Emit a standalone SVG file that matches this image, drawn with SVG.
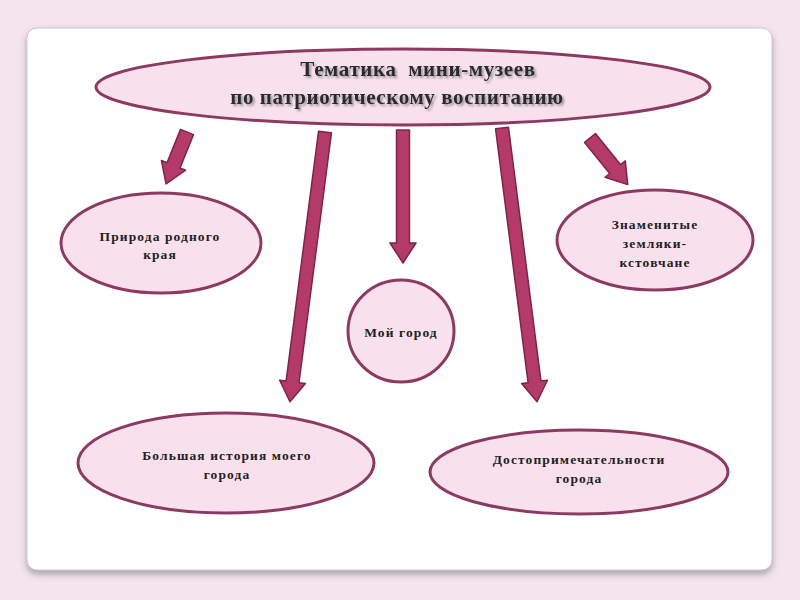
<svg xmlns="http://www.w3.org/2000/svg" width="800" height="600" viewBox="0 0 800 600">
<defs>
<style>
.node ellipse{fill:#f8e1ec;stroke:#8c3a62;stroke-width:3}
.lbl{font-family:"Liberation Serif","DejaVu Serif",serif;font-weight:bold;font-size:13.5px;letter-spacing:1.1px;fill:#222;text-anchor:middle}
.ttl{font-family:"Liberation Serif","DejaVu Serif",serif;font-weight:bold;font-size:21px;letter-spacing:0.6px;fill:#2a2a2a;text-anchor:middle;white-space:pre}
.arr{fill:#b43a69;stroke:#7e2448;stroke-width:1.5;stroke-linejoin:round}
</style>
<filter id="ts" x="-10%" y="-30%" width="120%" height="160%">
<feGaussianBlur in="SourceAlpha" stdDeviation="1.2"/>
<feOffset dx="1.5" dy="2" result="b"/>
<feFlood flood-color="#777" flood-opacity="0.7"/>
<feComposite in2="b" operator="in"/>
<feMerge><feMergeNode/><feMergeNode in="SourceGraphic"/></feMerge>
</filter>
<filter id="cs" x="-5%" y="-5%" width="110%" height="115%">
<feGaussianBlur in="SourceAlpha" stdDeviation="3"/>
<feOffset dx="0" dy="4" result="b"/>
<feFlood flood-color="#666" flood-opacity="0.5"/>
<feComposite in2="b" operator="in"/>
<feMerge><feMergeNode/><feMergeNode in="SourceGraphic"/></feMerge>
</filter>
</defs>
<rect width="800" height="600" fill="#f4e4ec"/>
<rect x="27" y="28" width="745" height="542" rx="10" fill="#ffffff" stroke="#cfc6cb" stroke-width="1" filter="url(#cs)"/>

<g id="connectors">
<path class="arr" transform="translate(187,132) rotate(112)" d="M0,-7 L36,-7 L36,-13 L56,0 L36,13 L36,7 L0,7 Z"/>
<path class="arr" transform="translate(325,132) rotate(97.4)" d="M0,-6.5 L252,-6.5 L252,-13 L272,0 L252,13 L252,6.5 L0,6.5 Z"/>
<path class="arr" transform="translate(403,130) rotate(90)" d="M0,-6.5 L113,-6.5 L113,-13 L133,0 L113,13 L113,6.5 L0,6.5 Z"/>
<path class="arr" transform="translate(502,128) rotate(82.7)" d="M0,-6.5 L256,-6.5 L256,-13 L276,0 L256,13 L256,6.5 L0,6.5 Z"/>
<path class="arr" transform="translate(590,138) rotate(51)" d="M0,-7 L40,-7 L40,-13 L60,0 L40,13 L40,7 L0,7 Z"/>
</g>

<g id="title" class="node">
<ellipse cx="403" cy="87" rx="307" ry="38"/>
<g filter="url(#ts)">
<text class="ttl" x="418" y="76" xml:space="preserve">Тематика  мини-музеев</text>
<text class="ttl" x="397" y="104">по патриотическому воспитанию</text>
</g>
</g>

<g id="n-priroda" class="node">
<ellipse cx="161" cy="243" rx="100" ry="50"/>
<text class="lbl" x="160" y="241">Природа родного</text>
<text class="lbl" x="160" y="259">края</text>
</g>

<g id="n-zemlyaki" class="node">
<ellipse cx="655" cy="240" rx="98" ry="50"/>
<text class="lbl" x="655" y="229">Знаменитые</text>
<text class="lbl" x="655" y="248">земляки-</text>
<text class="lbl" x="655" y="267">кстовчане</text>
</g>

<g id="n-gorod" class="node">
<ellipse cx="401" cy="331" rx="53" ry="51"/>
<text class="lbl" x="401" y="337">Мой город</text>
</g>

<g id="n-istoriya" class="node">
<ellipse cx="226" cy="463" rx="148" ry="50"/>
<text class="lbl" x="227" y="460">Большая история моего</text>
<text class="lbl" x="227" y="479">города</text>
</g>

<g id="n-dostop" class="node">
<ellipse cx="579" cy="472" rx="149" ry="42"/>
<text class="lbl" x="579" y="464">Достопримечательности</text>
<text class="lbl" x="579" y="483">города</text>
</g>
</svg>
